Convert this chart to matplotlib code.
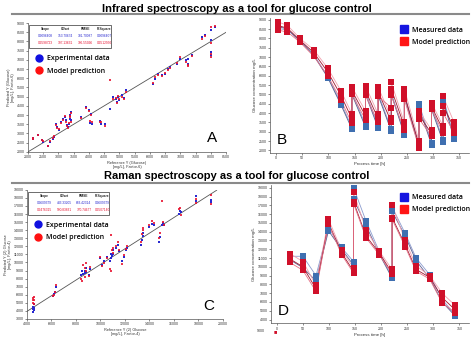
import numpy as np
import matplotlib.pyplot as plt
from matplotlib.lines import Line2D

plt.rcParams['font.family'] = ['Liberation Sans', 'DejaVu Sans']

BLUE = '#2a2ad0'
RED = '#e8102e'
SQ_BLUE = '#3f6fb0'
SQ_RED = '#d0102a'

# infrared calibration: reference vs predicted glucose
ir_ref = [2170, 2170, 2330, 2460, 2490, 2660, 2710, 2820, 2860, 2930, 2950, 3020, 3100, 3150, 3200,
          3260, 3280, 3310, 3350, 3370, 3390, 3420, 3420, 3750, 3900, 4000, 4030, 4080, 4110, 4360,
          4410, 4520, 4690, 4800, 4880, 4920, 4960, 5000, 5070, 5150, 5230, 6110, 6170, 6280, 6390,
          6500, 6610, 6660, 6880, 6990, 7200, 7260, 7260, 7370, 7700, 7810, 7990, 7990, 7990, 7990, 8140]
ir_exp = [2760, 2700, 2940, 2630, 2540, 2330, 2540, 2720, 2810, 3540, 3360, 3180, 3630, 3810, 3900,
          3720, 3450, 3360, 3500, 3810, 3990, 3720, 4170, 3900, 4440, 4260, 3590, 4080, 3500, 3680,
          3540, 3500, 4350, 4980, 4890, 4710, 4980, 4800, 5080, 4950, 5350, 5710, 5980, 6250, 6160,
          6250, 6520, 6610, 6790, 7060, 6970, 6790, 7060, 7280, 8230, 8330, 8600, 8060, 7430, 7250, 8780]
ir_mod = [2720, 2780, 2900, 2660, 2600, 2300, 2570, 2750, 2850, 3480, 3300, 3250, 3560, 3750, 3950,
          3650, 3380, 3300, 3580, 3880, 3950, 3650, 4100, 3850, 4400, 4200, 3700, 4000, 3600, 3600,
          3620, 3420, 5890, 4900, 4950, 4650, 5050, 4850, 5000, 4880, 5250, 5750, 6050, 6180, 6100,
          6300, 6450, 6550, 6850, 7150, 6900, 6700, 6650, 7200, 8150, 8280, 8800, 7900, 7300, 7150, 8820]
ir_stats = [['Slope', 'Offset', 'RMSE', 'R-Square'],
            ['0.9096408', '153.70674', '301.70087', '0.9096407'],
            ['0.9598723', '197.13631', '386.55096', '0.9512956']]

# raman calibration
ra_ref = [4450, 4500, 4500, 4550, 4550, 4600, 6100, 6200, 6300, 6400, 8400, 8500, 8600, 8700, 8700,
          8800, 8800, 9100, 9150, 10000, 10100, 10300, 10500, 10800, 10850, 10900, 10950, 11000, 11000,
          11300, 11400, 11500, 11800, 11900, 12100, 12200, 13300, 13400, 13450, 13500, 14000, 14200,
          14400, 14800, 14850, 15000, 15100, 15200, 16400, 16500, 16600, 17800, 17850, 19000, 19000]
ra_exp = [4500, 4300, 3900, 4800, 4100, 4400, 5900, 6100, 6300, 7000, 8500, 8900, 8600, 9000, 8700,
          9300, 8800, 8400, 9200, 10500, 9700, 10200, 10700, 10200, 10500, 11100, 10800, 11600, 11000,
          11800, 12200, 11400, 10200, 10700, 11500, 11800, 12200, 12800, 13300, 13700, 14400, 14800,
          14700, 12500, 13200, 14700, 14900, 14600, 16000, 16400, 16200, 17600, 18200, 17800, 17500]
ra_mod = [5600, 5300, 5000, 5700, 5400, 4900, 5800, 6000, 6300, 7200, 8000, 7700, 9700, 9300, 8200,
          9900, 8900, 8300, 9400, 10700, 9600, 9900, 10600, 9200, 9000, 13400, 11500, 11200, 11800,
          12000, 12500, 11600, 9800, 10900, 11700, 12000, 12600, 13500, 14000, 14300, 14600, 15100,
          14900, 13000, 13600, 17600, 15000, 14700, 16600, 16800, 15900, 17400, 17900, 18300, 17300]
ra_stats = [['Slope', 'Offset', 'RMSE', 'R-Square'],
            ['0.9609379', '433.33205', '683.42314', '0.9609379'],
            ['0.9476315', '590.83831', '770.74677', '0.9507140']]

# infrared process runs (fed-batch, repeated times mark feeding)
ir_time = [3, 22, 46, 72, 99, 124, 145, 145, 171, 171, 195, 195, 220, 220, 245, 245,
           273, 273, 297, 297, 319, 319, 340]
ir_meas = [
    [8550, 8450, 7900, 7150, 5950, 4550, 3250, 5150, 3350, 5150, 3300, 5050, 3150, 5100, 2950, 5000,
     2300, 4500, 2400, 4350, 2550, 4850, 2700],
    [8650, 8500, 7850, 7100, 5900, 4450, 3150, 5000, 3250, 5000, 3200, 4950, 3050, 5000, 2850, 4900,
     2200, 4300, 2300, 4200, 2450, 4700, 2600],
]
ir_pred = [
    [8900, 8700, 8000, 7400, 6400, 5200, 3950, 5400, 4100, 5450, 3950, 5400, 3750, 5650, 3500, 5300,
     2500, 4100, 3100, 4550, 3300, 4900, 3500],
    [8700, 8550, 7900, 7250, 6200, 4950, 3700, 5200, 3850, 5200, 3700, 5150, 3550, 5300, 3300, 5000,
     2300, 3900, 2900, 4350, 3100, 4400, 3200],
    [8450, 8350, 7800, 7050, 6000, 4700, 3450, 5000, 3650, 4950, 3500, 4900, 4300, 4950, 3100, 4750,
     2150, 3700, 2750, 4200, 2950, 4000, 2950],
]

# raman process runs
ra_time = [25, 50, 75, 99, 124, 147, 147, 171, 196, 221, 221, 246, 267, 293, 317, 342]
ra_meas = [
    [11200, 11200, 9000, 14400, 12200, 10600, 19000, 15200, 11800, 8800, 16800, 13800, 11000, 9100, 6300, 4500],
    [10800, 9900, 8400, 14100, 12000, 10200, 17700, 14700, 11500, 8700, 16300, 13500, 10700, 8700, 6000, 4400],
]
ra_pred = [
    [11500, 10600, 7900, 15400, 11900, 9900, 18500, 14200, 11800, 9700, 17000, 13000, 10100, 9000, 7000, 5600],
    [10900, 10000, 7500, 15000, 11600, 9500, 17400, 13500, 11600, 9300, 15600, 12500, 9700, 8800, 6500, 5100],
    [10500, 9600, 7200, 14900, 11400, 9300, 17200, 13300, 11400, 9200, 15400, 12300, 9500, 8600, 5900, 4800],
]

meas_line_colors = ['#8c9ccf', '#5a5f8f']
pred_line_colors = ['#f2a0ae', '#a01830', '#e47085']


def style_axes(ax):
    for s in ['top', 'right']:
        ax.spines[s].set_visible(False)
    for s in ['left', 'bottom']:
        ax.spines[s].set_linewidth(0.5)
        ax.spines[s].set_color('#555555')
    ax.tick_params(labelsize=2.6, length=1.5, width=0.4, pad=1, colors='#333333')


def calibration_panel(ax, ref, exp, mod, stats, line, xlim, ylim, xstep, ystep, xlab, ylab, letter):
    style_axes(ax)
    ax.plot(line[0], line[1], color='#555555', lw=0.6)
    ax.plot(ref, exp, 's', ms=1.6, color=BLUE, mew=0)
    ax.plot(ref, mod, 's', ms=1.6, color=RED, mew=0, alpha=0.85)
    ax.set_xlim(xlim)
    ax.set_ylim(ylim)
    ax.set_xticks(np.arange(xlim[0], xlim[1] + 1, xstep))
    ax.set_yticks(np.arange(ylim[0], ylim[1] + 1, ystep))
    ax.set_xlabel(xlab, fontsize=2.8, labelpad=1, color='#333333')
    ax.set_ylabel(ylab, fontsize=2.8, labelpad=1, color='#333333')
    # statistics table
    ax.add_patch(plt.Rectangle((0.005, 0.805), 0.415, 0.18, transform=ax.transAxes,
                               fill=False, lw=0.5, color='#333333'))
    cols = [0.09, 0.19, 0.29, 0.385]
    for r, (row, c) in enumerate(zip(stats, ['#222222', BLUE, RED])):
        for x, txt in zip(cols, row):
            ax.text(x, 0.955 - r * 0.055, txt, transform=ax.transAxes, fontsize=2.3,
                    color=c, ha='center', va='center', fontweight='bold' if r == 0 else 'normal')
    handles = [Line2D([], [], ls='', marker='o', ms=5, color='#1010e0'),
               Line2D([], [], ls='', marker='o', ms=5, color='#ff1010')]
    ax.legend(handles, ['Experimental data', 'Model prediction'], loc='upper left',
              bbox_to_anchor=(-0.01, 0.80), frameon=False, handletextpad=0.1,
              labelspacing=0.8, prop={'family': 'Open Sans', 'weight': 'semibold', 'size': 5})
    ax.text(0.955, 0.05, letter, transform=ax.transAxes, fontsize=11, ha='right', va='bottom')


def process_panel(ax, time, meas, pred, ylim, yticks, letter):
    style_axes(ax)
    for run, c in zip(meas, meas_line_colors):
        ax.plot(time, run, '-', color=c, lw=0.6, zorder=1)
    for run, c in zip(pred, pred_line_colors):
        ax.plot(time, run, '-', color=c, lw=0.6, zorder=1)
    for run in meas:
        ax.plot(time, run, 's', ms=4.2, color=SQ_BLUE, mew=0, zorder=2)
    for run in pred:
        ax.plot(time, run, 's', ms=4.2, color=SQ_RED, mew=0, zorder=3)
    ax.set_xlim(-11, 368)
    ax.set_ylim(ylim)
    ax.set_xticks(np.arange(0, 351, 50))
    ax.set_yticks(yticks)
    ax.set_xlabel('Process time [h]', fontsize=3.2, labelpad=1.5, color='#333333')
    ax.set_ylabel('Glucose concentration mg/L', fontsize=3.2, labelpad=1, color='#333333')
    handles = [Line2D([], [], ls='', marker='s', ms=6, color='#1515e0'),
               Line2D([], [], ls='', marker='s', ms=6, color='#ff1515')]
    ax.legend(handles, ['Measured data', 'Model prediction'], loc='upper right',
              bbox_to_anchor=(1.04, 0.98), frameon=False, handletextpad=0.2,
              labelspacing=0.7, prop={'family': 'Open Sans', 'weight': 'semibold', 'size': 5})
    ax.text(0.035, 0.04, letter, transform=ax.transAxes, fontsize=11, ha='left', va='bottom')


fig = plt.figure(figsize=(4.74, 3.39), dpi=100)

# section headings with grey rules
for y_txt, y_line, txt in [(0.972, 0.959, 'Infrared spectroscopy as a tool for glucose control'),
                           (0.481, 0.461, 'Raman spectroscopy as a tool for glucose control')]:
    fig.text(0.5, y_txt, txt, ha='center', va='center', fontsize=8, fontweight='bold')
    fig.add_artist(Line2D([0.025, 0.99], [y_line, y_line], color='#8a8a8a', lw=1.5))

ax_a = fig.add_axes([0.059, 0.552, 0.418, 0.380])
calibration_panel(ax_a, ir_ref, ir_exp, ir_mod, ir_stats, ([2000, 8500], [2000, 8500]),
                  (2000, 8500), (2000, 9000), 500, 500,
                  'Reference Y (Glucose)\n[mg/L], Factor-6)', 'Predicted Y (Glucose)\n[mg/L], Factor-6)', 'A')

ax_c = fig.add_axes([0.057, 0.059, 0.413, 0.381])
calibration_panel(ax_c, ra_ref, ra_exp, ra_mod, ra_stats, ([4000, 19500], [3950, 18950]),
                  (4000, 20000), (3000, 19000), 2000, 1000,
                  'Reference Y (2) Glucose\n[mg/L], Factor-4)', 'Predicted Y (2) Glucose\n[mg/L], Factor-4)', 'C')

ax_b = fig.add_axes([0.570, 0.549, 0.419, 0.398])
process_panel(ax_b, ir_time, ir_meas, ir_pred, (1870, 9100), np.arange(2000, 9001, 500), 'B')

ax_d = fig.add_axes([0.572, 0.047, 0.417, 0.407])
process_panel(ax_d, ra_time, ra_meas, ra_pred, (3600, 19300), np.arange(4000, 19001, 1000), 'D')
# stray axis label left under panel D
ax_d.text(-0.03, -0.055, '9000', transform=ax_d.transAxes, fontsize=2.6, color='#333333',
          ha='right', va='center')
ax_d.text(0.02, -0.06, '\u25a0', transform=ax_d.transAxes, fontsize=4, color=SQ_RED,
          ha='center', va='center')

fig.savefig('out.png', dpi=100, facecolor='white')
